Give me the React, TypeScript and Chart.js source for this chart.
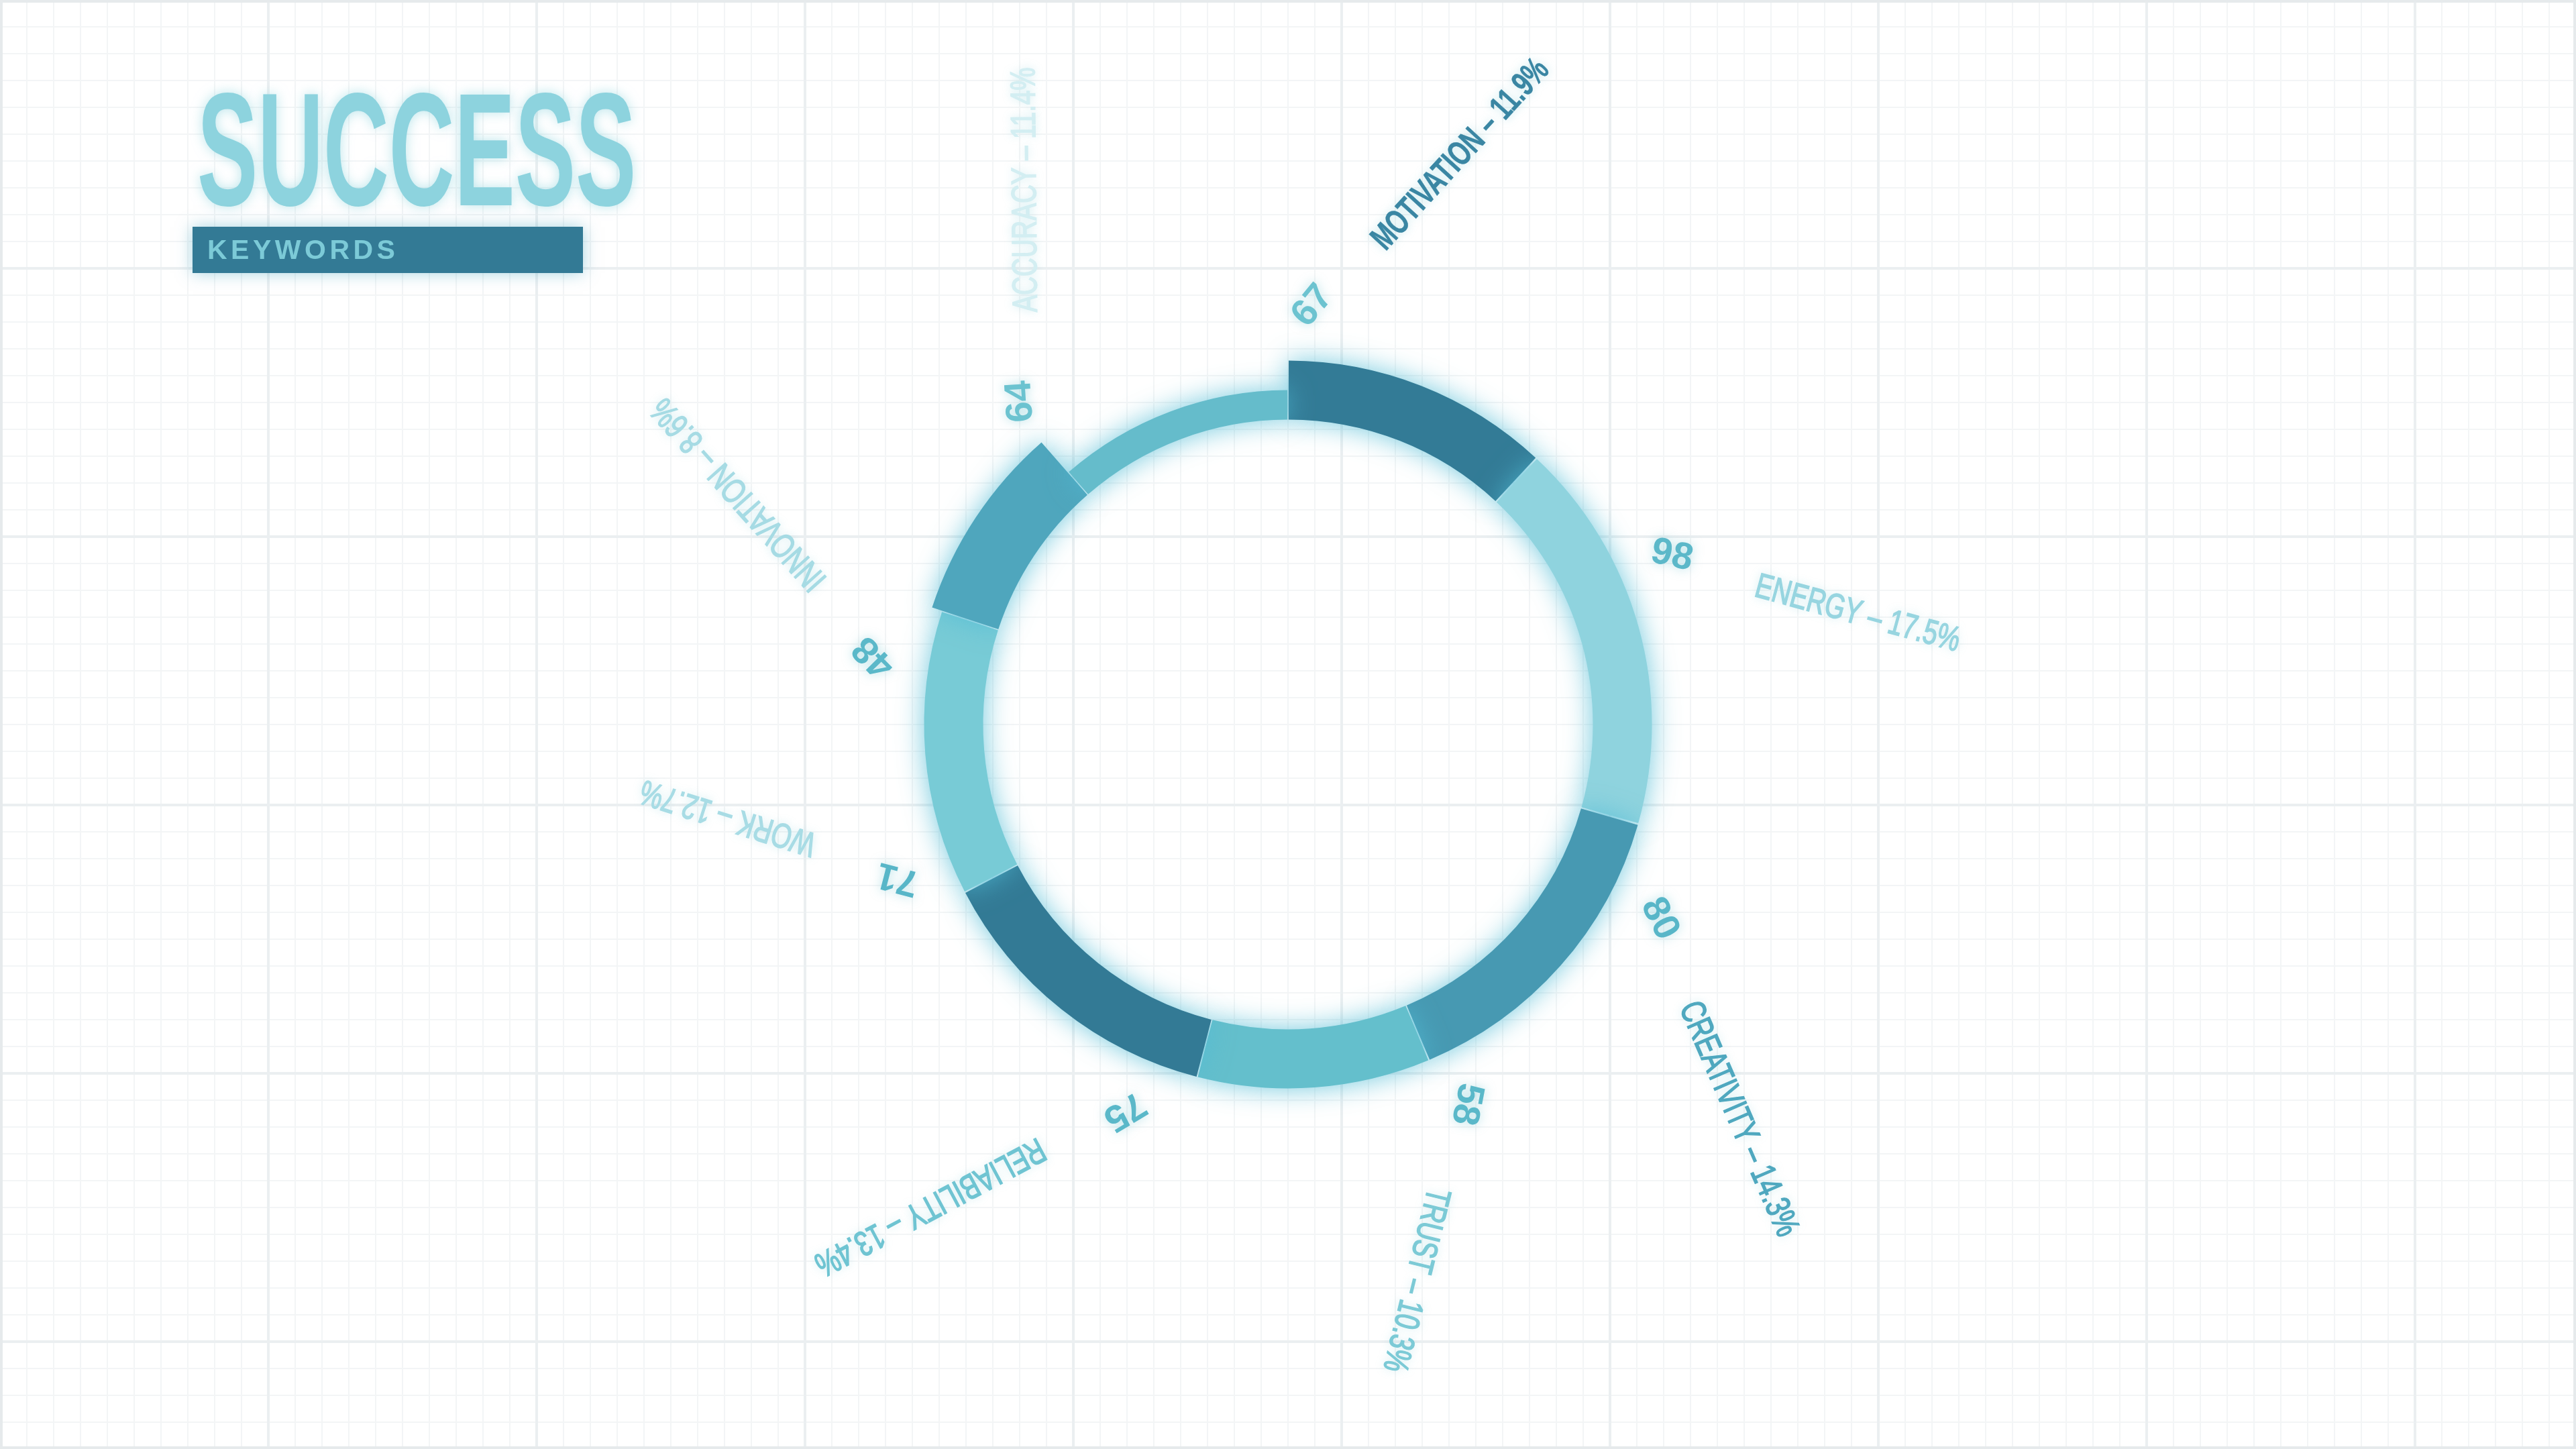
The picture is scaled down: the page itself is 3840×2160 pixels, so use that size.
import React, { useEffect, useRef } from 'react';
import { Chart, registerables } from 'chart.js';

Chart.register(...registerables);

// ---------- data ----------
const categories = ['MOTIVATION', 'ENERGY', 'CREATIVITY', 'TRUST', 'RELIABILITY', 'WORK', 'INNOVATION', 'ACCURACY'];
const values = [67, 98, 80, 58, 75, 71, 48, 64];
const titleText = 'SUCCESS';
const subtitleText = 'KEYWORDS';

// ---------- styles ----------
const segmentColors = ['#337b96', '#8fd3de', '#4799b2', '#64bfcc', '#337a95', '#78cbd6', '#4fa6bd', '#65bccb'];
const ringExtra = [0, 0, 0, 0, 0, 0, 16, -44];
const numberColors = ['#6cc3d0', '#5cb8c9', '#58b6c8', '#5ab8c9', '#5ab8c9', '#58b6c8', '#5ab8c9', '#6cc3d0'];
const labelColors = ['#3a86a3', '#97d5e0', '#4fa8bf', '#7ccad6', '#6fc4d2', '#a8dce5', '#a6dbe4', '#d3eef2'];
const labelBold = [true, false, false, false, false, false, false, false];

const W = 3840;
const H = 2160;
const RING_OUTER = 540;
const RING_INNER = 452;
const LABEL_SHIFT_DEG = -39.6;
const NUM_R = 625;
const NUM_ROT_DEG = 36;
const LAB_R = 727;
const LAB_DANG_DEG = 7.3;
const LAB_ROT_DEG = 39;
const DEG = Math.PI / 180;

const ringPlugin = {
  id: 'ringStyle',
  afterDatasetUpdate(chart: any, args: any) {
    const meta = args.meta;
    const base = meta.controller.outerRadius;
    meta.data.forEach((arc: any, i: number) => {
      arc.outerRadius = base + (ringExtra[i] || 0);
    });
  },
  beforeDatasetsDraw(chart: any) {
    const ctx = chart.ctx;
    ctx.save();
    ctx.shadowColor = 'rgba(80,188,212,0.8)';
    ctx.shadowBlur = 40;
  },
  afterDatasetsDraw(chart: any) {
    const ctx = chart.ctx;
    ctx.restore();
    const meta = chart.getDatasetMeta(0);
    const total = values.reduce((a, b) => a + b, 0);
    meta.data.forEach((arc: any, i: number) => {
      const { x, y, endAngle } = arc;
      const th = endAngle + LABEL_SHIFT_DEG * DEG;
      // number
      ctx.save();
      ctx.translate(x + NUM_R * Math.cos(th), y + NUM_R * Math.sin(th));
      ctx.rotate(th + NUM_ROT_DEG * DEG);
      ctx.font = 'bold 56px "Liberation Sans", Arial, sans-serif';
      ctx.textAlign = 'center';
      ctx.textBaseline = 'middle';
      ctx.fillStyle = numberColors[i];
      ctx.shadowColor = 'rgba(108,195,208,0.5)';
      ctx.shadowBlur = 16;
      ctx.fillText(String(values[i]), 0, 0);
      ctx.restore();
      // category label
      const la = th + LAB_DANG_DEG * DEG;
      const pct = ((values[i] / total) * 100).toFixed(1) + '%';
      const txt = `${categories[i]} \u2013 ${pct}`;
      ctx.save();
      ctx.translate(x + LAB_R * Math.cos(la), y + LAB_R * Math.sin(la));
      ctx.rotate(th + LAB_ROT_DEG * DEG);
      ctx.scale(labelBold[i] ? 0.7 : 0.74, 1);
      ctx.font = (labelBold[i] ? 'bold ' : '') + '52px "Liberation Sans", Arial, sans-serif';
      ctx.textAlign = 'left';
      ctx.textBaseline = 'middle';
      ctx.fillStyle = labelColors[i];
      ctx.strokeStyle = labelColors[i];
      ctx.lineWidth = labelBold[i] ? 0.5 : 1.6;
      ctx.shadowColor = 'rgba(108,195,208,0.4)';
      ctx.shadowBlur = 14;
      ctx.fillText(txt, 0, 0);
      ctx.shadowBlur = 0;
      ctx.strokeText(txt, 0, 0);
      ctx.restore();
    });
  },
};

function Title() {
  const ref = useRef<HTMLSpanElement | null>(null);
  useEffect(() => {
    const el = ref.current;
    if (!el) return;
    const w = el.offsetWidth;
    if (w > 0) el.style.transform = `scaleX(${654 / w})`;
  }, []);
  return (
    <span
      ref={ref}
      style={{
        position: 'absolute',
        left: 294,
        top: 104,
        display: 'inline-block',
        whiteSpace: 'nowrap',
        fontFamily: '"Liberation Sans Narrow", "Liberation Sans", Arial, sans-serif',
        fontWeight: 700,
        fontSize: 239,
        lineHeight: 1,
        color: '#8dd3de',
        transformOrigin: 'left top',
        textShadow: '0 0 24px rgba(141,211,222,0.6)',
      }}
    >
      {titleText}
    </span>
  );
}

export default function App() {
  const canvasRef = useRef<HTMLCanvasElement | null>(null);

  useEffect(() => {
    const canvas = canvasRef.current;
    if (!canvas) return;
    const chart = new Chart(canvas, {
      type: 'doughnut',
      data: {
        labels: categories,
        datasets: [
          {
            data: values,
            backgroundColor: segmentColors,
            borderWidth: 0,
            spacing: 5,
          } as any,
        ],
      },
      options: {
        animation: false,
        responsive: true,
        maintainAspectRatio: false,
        radius: RING_OUTER,
        cutout: `${(RING_INNER / RING_OUTER) * 100}%`,
        spacing: 5,
        events: [],
        layout: { padding: 0 },
        plugins: {
          legend: { display: false },
          tooltip: { enabled: false },
        },
      } as any,
      plugins: [ringPlugin as any],
    });
    return () => chart.destroy();
  }, []);

  return (
    <div
      style={{
        position: 'fixed',
        left: 0,
        top: 0,
        width: W,
        height: H,
        overflow: 'hidden',
        backgroundColor: '#ffffff',
        backgroundImage: [
          'linear-gradient(to right, #ebeff1 0px, #ebeff1 4px, transparent 4px)',
          'linear-gradient(to bottom, #ebeff1 0px, #ebeff1 4px, transparent 4px)',
          'linear-gradient(to right, #f3f5f6 0px, #f3f5f6 2px, transparent 2px)',
          'linear-gradient(to bottom, #f3f5f6 0px, #f3f5f6 2px, transparent 2px)',
        ].join(','),
        backgroundSize: '400px 400px, 400px 400px, 40px 40px, 40px 40px',
        backgroundPosition: '-2px -2px, -2px -2px, -1px -1px, -1px -1px',
        boxShadow: 'inset 0 0 0 4px #e6eaec',
      }}
    >
      <div style={{ position: 'absolute', left: 0, top: 0, width: W, height: H }}>
        <canvas ref={canvasRef} />
      </div>
      <Title />
      <div
        style={{
          position: 'absolute',
          left: 287,
          top: 338,
          width: 582,
          height: 69,
          background: '#337a95',
          boxShadow: '0 0 22px rgba(80,170,195,0.5)',
          display: 'flex',
          alignItems: 'center',
          paddingLeft: 22,
          boxSizing: 'border-box',
        }}
      >
        <span
          style={{
            fontFamily: '"Liberation Sans", Arial, sans-serif',
            fontWeight: 700,
            fontSize: 41,
            lineHeight: 1,
            letterSpacing: 5.5,
            color: '#7ccad7',
          }}
        >
          {subtitleText}
        </span>
      </div>
    </div>
  );
}
